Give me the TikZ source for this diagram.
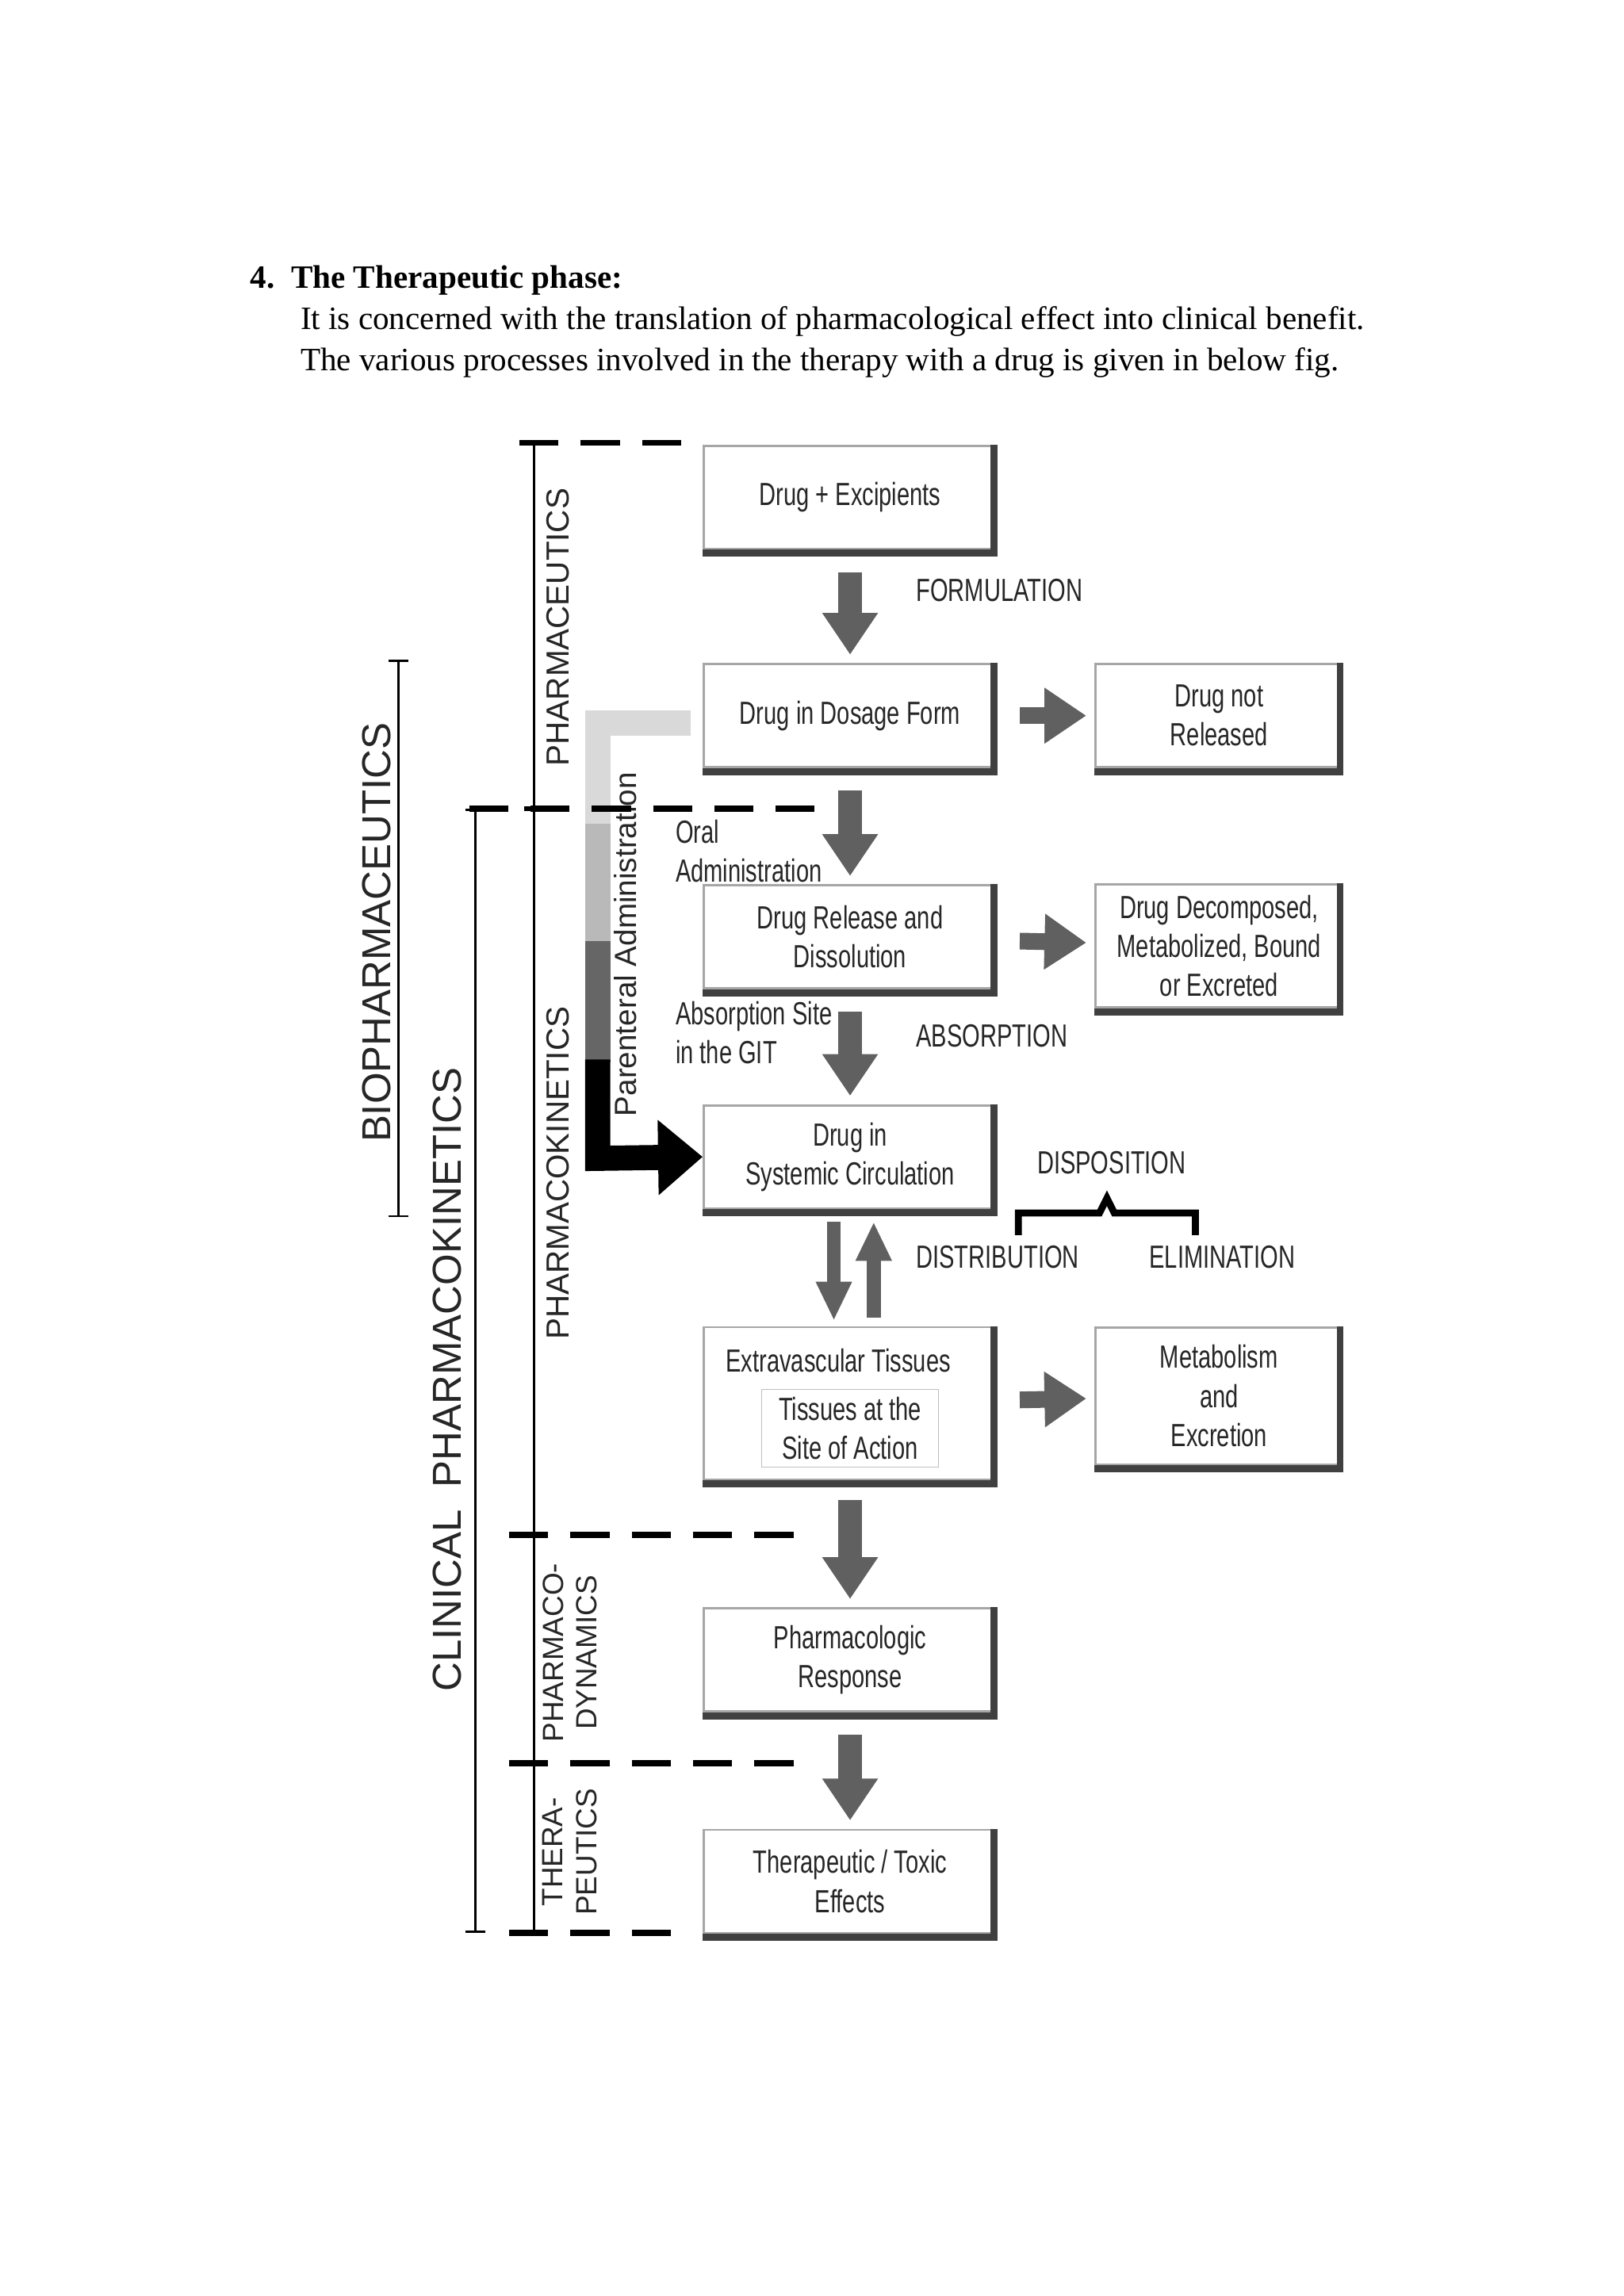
\documentclass[tikz,border=0pt]{standalone}
\usepackage{fontspec}
\setmainfont{Liberation Serif}
\newfontfamily\dsans{Liberation Sans}
\usetikzlibrary{arrows.meta,decorations.pathreplacing,calc}
\begin{document}
\begin{tikzpicture}[x=0.01862cm,y=-0.01862cm,
  box/.style={draw=gray!70,line width=0.8pt,fill=white,minimum width=3.69cm,minimum height=1.30cm,inner sep=0pt},
  sbox/.style={box,minimum width=3.11cm},
  txt/.style={font=\dsans\fontsize{11.5}{14}\selectfont,xscale=0.72,transform shape,align=center,text=black!85},
  lab/.style={txt,anchor=west},
  vlab/.style={font=\dsans\fontsize{11.5}{13}\selectfont,rotate=90,align=center,text=black!85},
  barr/.style={draw=gray!75!black,line width=8.5pt,-{Triangle[width=19pt,length=15pt]},shorten <=8pt,shorten >=3pt},
  dline/.style={line width=2.2pt,dash pattern=on 14pt off 8pt},
  dim/.style={line width=0.8pt,{Bar[width=7pt]}-{Bar[width=7pt]}}]
\useasboundingbox (0,0) rectangle (1100,1556);
% header
\node[anchor=west,font=\bfseries\fontsize{11.7}{14}\selectfont] at (163,190) {4.\ \ The Therapeutic phase:};
\node[anchor=west,font=\fontsize{11.7}{14}\selectfont] at (197,218) {It is concerned with the translation of pharmacological effect into clinical benefit.};
\node[anchor=west,font=\fontsize{11.7}{14}\selectfont] at (197,246) {The various processes involved in the therapy with a drug is given in below fig.};
% boxes
\newcommand\bx[4]{\node[#1] (#2) at (#3) {};
  \draw[gray!50!black,line width=2.5pt] ($(#2.north east)+(-1.2pt,0)$) -- ($(#2.south east)+(-1.2pt,-1.2pt)$) -- ($(#2.south west)+(0,-1.2pt)$);
  \node[txt] at (#2) {#4};}
\bx{box}{a}{576,337}{Drug + Excipients}
\bx{box}{b}{576,485}{Drug in Dosage Form}
\bx{sbox}{bn}{826,485}{Drug not\\Released}
\bx{box}{c}{576,635}{Drug Release and\\Dissolution}
\bx{sbox,minimum height=1.55cm}{cd}{826,641}{Drug Decomposed,\\Metabolized, Bound\\or Excreted}
\bx{box}{d}{576,784}{Drug in\\Systemic Circulation}
\node[box,minimum height=1.92cm] (e) at (576,951) {};
\draw[gray!50!black,line width=2.5pt] ($(e.north east)+(-1.2pt,0)$) -- ($(e.south east)+(-1.2pt,-1.2pt)$) -- ($(e.south west)+(0,-1.2pt)$);
\node[txt] at (568,922) {Extravascular Tissues};
\node[draw=gray!50,minimum width=2.23cm,minimum height=0.98cm] (ei) at (576,968) {};
\node[txt] at (ei) {Tissues at the\\Site of Action};
\bx{sbox,minimum height=1.73cm}{em}{826,946}{Metabolism\\and\\Excretion}
\bx{box}{f}{576,1125}{Pharmacologic\\Response}
\bx{box}{g}{576,1275}{Therapeutic / Toxic\\Effects}
% arrows
\draw[barr] (a) -- (b);
\draw[barr] (b) -- (c);
\draw[barr] (c) -- (d);
\draw[barr,shorten <=2pt] (576,1013) -- (f);
\draw[barr] (f) -- (g);
\draw[barr,line width=6pt] (b) -- (bn);
\draw[barr,line width=6pt] (c) -- (cd);
\draw[barr,line width=6pt] (e) -- (em);
\coordinate (t1) at (565,828); \coordinate (t2) at (565,895);
\coordinate (u1) at (592,893); \coordinate (u2) at (592,828);
\draw[gray!75!black,line width=5pt,-{Triangle[width=12pt,length=14pt]}] (t1) -- (t2);
\draw[gray!75!black,line width=5pt,-{Triangle[width=12pt,length=14pt]}] (u1) -- (u2);
% parenteral
\coordinate (p0) at (468,490); \coordinate (p1) at (405,490);
\draw[gray!30,line width=9pt] (p0) -- (p1) -- (405,560);
\draw[gray!55,line width=9pt] (405,558) -- (405,640);
\draw[gray!80!black,line width=9pt] (405,638) -- (405,720);
\draw[black,line width=9pt,-{Triangle[width=26pt,length=16pt]}] (405,718) -- (405,785) -- (d.west);
\node[vlab,font=\dsans\fontsize{11}{13}\selectfont] at (424,640) {Parenteral Administration};
% labels
\node[lab] at (616,400) {FORMULATION};
\node[lab,align=left] at (453,577) {Oral\\Administration};
\node[lab,align=left] at (453,700) {Absorption Site\\in the GIT};
\node[lab] at (616,702) {ABSORPTION};
\node[lab] at (698,788) {DISPOSITION};
\node[lab] at (616,852) {DISTRIBUTION};
\node[lab] at (774,852) {ELIMINATION};
\draw[line width=2.5pt] (690,837) -- (690,822) -- (745,822) -- (750,812) -- (755,822) -- (810,822) -- (810,837);
% dashed lines
\draw[dline] (352,300) -- (468,300);
\draw[dline] (318,548) -- (552,548);
\draw[dline] (345,1040) -- (552,1040);
\draw[dline] (345,1195) -- (552,1195);
\draw[dline] (345,1310) -- (462,1310);
% dimension lines
\draw[dim] (362,300) -- (362,548);
\draw[dim] (362,548) -- (362,1040);
\draw[dim] (362,1040) -- (362,1195);
\draw[dim] (362,1195) -- (362,1310);
\draw[dim] (270,447) -- (270,825);
\draw[dim] (322,548) -- (322,1310);
\node[vlab] at (378,425) {PHARMACEUTICS};
\node[vlab] at (378,795) {PHARMACOKINETICS};
\node[vlab,font=\dsans\fontsize{10.5}{12}\selectfont] at (386,1120) {PHARMACO-\\DYNAMICS};
\node[vlab,font=\dsans\fontsize{10.5}{12}\selectfont] at (386,1255) {THERA-\\PEUTICS};
\node[vlab,font=\dsans\fontsize{14.5}{17}\selectfont] at (255,632) {BIOPHARMACEUTICS};
\node[vlab,font=\dsans\fontsize{14.5}{17}\selectfont] at (303,935) {CLINICAL\ \ PHARMACOKINETICS};
\end{tikzpicture}
\end{document}
